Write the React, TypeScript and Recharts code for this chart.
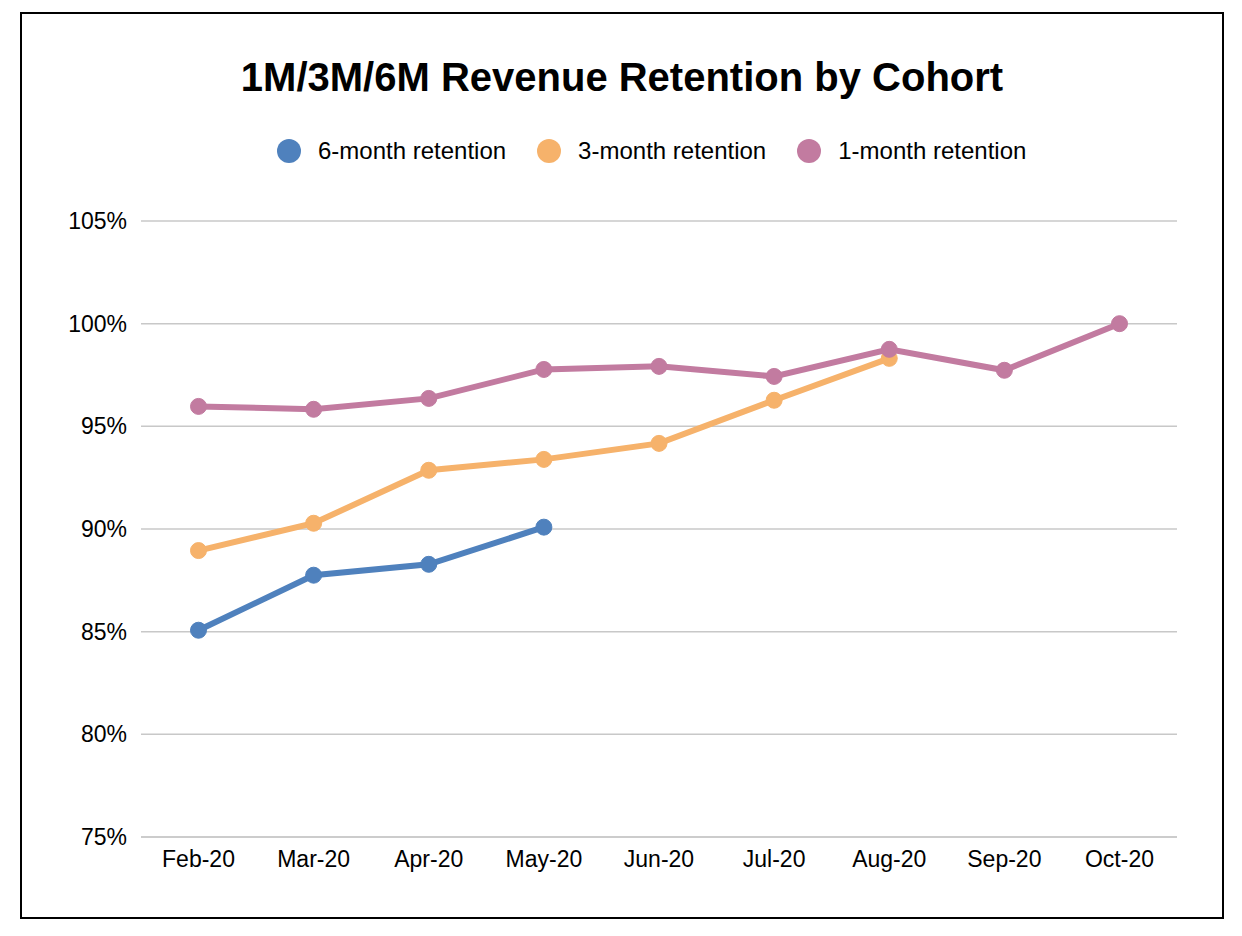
import { LineChart, Line, XAxis, YAxis, CartesianGrid } from "recharts"

const months = ["Feb-20", "Mar-20", "Apr-20", "May-20", "Jun-20", "Jul-20", "Aug-20", "Sep-20", "Oct-20"]
const sixMonth = [85.07, 87.75, 88.28, 90.09, null, null, null, null, null]
const threeMonth = [88.95, 90.28, 92.86, 93.39, 94.17, 96.27, 98.31, null, null]
const oneMonth = [95.97, 95.83, 96.36, 97.77, 97.92, 97.43, 98.75, 97.73, 100.0]
const yTicks = [75, 80, 85, 90, 95, 100, 105]

const series = [
  { key: "six", name: "6-month retention", color: "#4F81BD" },
  { key: "three", name: "3-month retention", color: "#F6B26B" },
  { key: "one", name: "1-month retention", color: "#C27BA0" },
]

const data = months.map((m, i) => ({
  month: m,
  six: sixMonth[i],
  three: threeMonth[i],
  one: oneMonth[i],
}))

const font = "'Liberation Sans', Arial, sans-serif"

export default function App() {
  return (
    <div
      style={{
        position: "absolute",
        left: 20,
        top: 12,
        width: 1204,
        height: 907,
        border: "2px solid #000",
        boxSizing: "border-box",
        background: "#fff",
        fontFamily: font,
      }}
    >
      <div
        style={{
          position: "absolute",
          left: 0,
          right: 0,
          top: 39,
          textAlign: "center",
          fontSize: 40,
          fontWeight: "bold",
          color: "#000",
          lineHeight: "48px",
        }}
      >
        1M/3M/6M Revenue Retention by Cohort
      </div>
      <div
        style={{
          position: "absolute",
          left: 255,
          top: 125,
          display: "flex",
          gap: 31,
          fontSize: 24,
          color: "#000",
          lineHeight: "24px",
          whiteSpace: "nowrap",
        }}
      >
        {series.map((s) => (
          <div key={s.key} style={{ display: "flex", alignItems: "center" }}>
            <span
              style={{
                width: 24,
                height: 24,
                borderRadius: 12,
                background: s.color,
                display: "inline-block",
                marginRight: 17,
              }}
            />
            <span>{s.name}</span>
          </div>
        ))}
      </div>
      <div style={{ position: "absolute", left: 0, top: 0 }}>
        <LineChart
          width={1200}
          height={903}
          data={data}
          margin={{ top: 207, right: 45, bottom: 0, left: 0 }}
        >
          <CartesianGrid vertical={false} stroke="#c8c8c8" strokeWidth={1.5} />
          <XAxis
            dataKey="month"
            axisLine={{ stroke: "#c8c8c8", strokeWidth: 1.5 }}
            tickLine={false}
            tickSize={6}
            tickMargin={8}
            height={80}
            padding={{ left: 57.5, right: 57.5 }}
            tick={{ fill: "#000", fontSize: 23, fontFamily: font }}
            interval={0}
          />
          <YAxis
            domain={[75, 105]}
            ticks={yTicks}
            width={119}
            axisLine={false}
            tickLine={false}
            tickSize={6}
            tickMargin={8}
            tickFormatter={(v) => `${v}%`}
            tick={{ fill: "#000", fontSize: 23, fontFamily: font }}
          />
          {series.map((s) => (
            <Line
              key={s.key}
              dataKey={s.key}
              name={s.name}
              stroke={s.color}
              strokeWidth={6}
              dot={{ r: 8, fill: s.color, stroke: s.color, strokeWidth: 1 }}
              activeDot={false}
              isAnimationActive={false}
              type="linear"
            />
          ))}
        </LineChart>
      </div>
    </div>
  )
}
